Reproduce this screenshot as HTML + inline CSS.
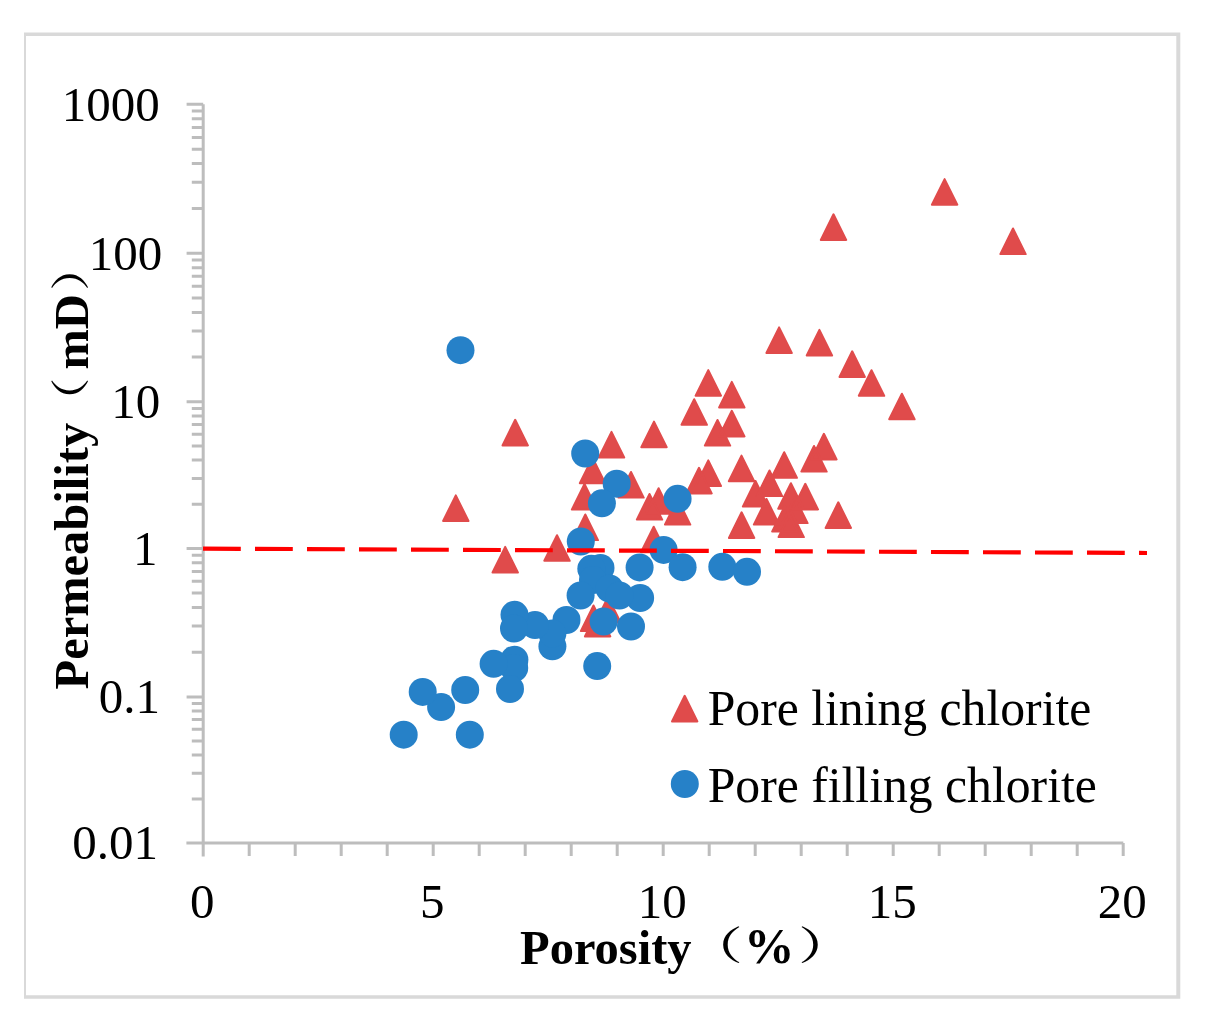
<!DOCTYPE html>
<html><head><meta charset="utf-8"><title>Permeability vs Porosity</title>
<style>html,body{margin:0;padding:0;background:#fff;}svg{display:block;}</style></head>
<body><svg width="1217" height="1030" viewBox="0 0 1217 1030">
<rect width="1217" height="1030" fill="#fff"/>
<path d="M24 32.5H1180.3V998.8H24Z M26 36V995.2H1176.3V36Z" fill="#d9d9d9" fill-rule="evenodd"/>
<path d="M203.2 104.3V856.5 M186.4 843.1H1123.3 M186.6 104.3H203.2 M186.6 253.3H203.2 M186.6 401.8H203.2 M186.6 548.4H203.2 M186.6 696.9H203.2 M186.6 843.1H203.2 M191.8 799.1H203.2 M191.8 773.3H203.2 M191.8 755.1H203.2 M191.8 740.9H203.2 M191.8 729.3H203.2 M191.8 719.5H203.2 M191.8 711.1H203.2 M191.8 703.6H203.2 M191.8 652.2H203.2 M191.8 626.0H203.2 M191.8 607.5H203.2 M191.8 593.1H203.2 M191.8 581.3H203.2 M191.8 571.4H203.2 M191.8 562.8H203.2 M191.8 555.2H203.2 M191.8 504.3H203.2 M191.8 478.5H203.2 M191.8 460.1H203.2 M191.8 445.9H203.2 M191.8 434.3H203.2 M191.8 424.5H203.2 M191.8 416.0H203.2 M191.8 408.5H203.2 M191.8 357.1H203.2 M191.8 330.9H203.2 M191.8 312.4H203.2 M191.8 298.0H203.2 M191.8 286.2H203.2 M191.8 276.3H203.2 M191.8 267.7H203.2 M191.8 260.1H203.2 M191.8 208.4H203.2 M191.8 182.2H203.2 M191.8 163.6H203.2 M191.8 149.2H203.2 M191.8 137.4H203.2 M191.8 127.4H203.2 M191.8 118.7H203.2 M191.8 111.1H203.2 M249.2 843.1V856.0 M295.2 843.1V856.0 M341.2 843.1V856.0 M387.2 843.1V856.0 M433.2 843.1V856.0 M479.2 843.1V856.0 M525.2 843.1V856.0 M571.2 843.1V856.0 M617.2 843.1V856.0 M663.2 843.1V856.0 M709.2 843.1V856.0 M755.2 843.1V856.0 M801.2 843.1V856.0 M847.2 843.1V856.0 M893.2 843.1V856.0 M939.2 843.1V856.0 M985.2 843.1V856.0 M1031.2 843.1V856.0 M1077.2 843.1V856.0 M1123.2 843.1V856.0" fill="none" stroke="#bdbdbd" stroke-width="3"/>
<path d="M820.8 239.9L833.5 214.3L846.2 239.9ZM931.9 204.7L944.6 179.1L957.3 204.7ZM1000.3 254.1L1013.0 228.5L1025.7 254.1ZM766.4 353.0L779.1 327.4L791.8 353.0ZM806.7 355.5L819.4 329.9L832.1 355.5ZM839.5 376.9L852.2 351.3L864.9 376.9ZM858.8 395.8L871.5 370.2L884.2 395.8ZM889.2 419.3L901.9 393.7L914.6 419.3ZM695.6 395.7L708.3 370.1L721.0 395.7ZM719.1 407.5L731.8 381.9L744.5 407.5ZM681.5 424.8L694.2 399.2L706.9 424.8ZM719.1 436.4L731.8 410.8L744.5 436.4ZM704.8 445.6L717.5 420.0L730.2 445.6ZM641.3 447.2L654.0 421.6L666.7 447.2ZM598.8 457.5L611.5 431.9L624.2 457.5ZM728.8 481.2L741.5 455.6L754.2 481.2ZM695.6 486.0L708.3 460.4L721.0 486.0ZM686.3 493.4L699.0 467.8L711.7 493.4ZM618.3 497.6L631.0 472.0L643.7 497.6ZM811.2 459.4L823.9 433.8L836.6 459.4ZM801.3 471.6L814.0 446.0L826.7 471.6ZM771.5 477.8L784.2 452.2L796.9 477.8ZM756.8 496.1L769.5 470.5L782.2 496.1ZM742.8 506.6L755.5 481.0L768.2 506.6ZM778.2 508.8L790.9 483.2L803.6 508.8ZM792.6 509.4L805.3 483.8L818.0 509.4ZM753.8 524.6L766.5 499.0L779.2 524.6ZM782.2 523.1L794.9 497.5L807.6 523.1ZM778.5 537.1L791.2 511.5L803.9 537.1ZM728.9 537.9L741.6 512.3L754.3 537.9ZM825.6 527.9L838.3 502.3L851.0 527.9ZM772.1 531.6L784.8 506.0L797.5 531.6ZM579.8 483.2L592.5 457.6L605.2 483.2ZM571.8 509.6L584.5 484.0L597.2 509.6ZM645.9 513.8L658.6 488.2L671.3 513.8ZM636.8 519.6L649.5 494.0L662.2 519.6ZM664.9 524.6L677.6 499.0L690.3 524.6ZM641.0 552.3L653.7 526.7L666.4 552.3ZM572.6 540.1L585.3 514.5L598.0 540.1ZM544.3 560.8L557.0 535.2L569.7 560.8ZM492.5 572.5L505.2 546.9L517.9 572.5ZM443.1 521.0L455.8 495.4L468.5 521.0ZM502.5 445.4L515.2 419.8L527.9 445.4ZM580.8 631.1L593.5 605.5L606.2 631.1ZM584.9 636.4L597.6 610.8L610.3 636.4ZM595.3 622.6L608.0 597.0L620.7 622.6Z" fill="#e04b4b" stroke="#e04b4b" stroke-width="2" stroke-linejoin="round"/>
<circle cx="460.5" cy="350.2" r="14.0" fill="#2681c8"/>
<circle cx="585.2" cy="453.5" r="14.0" fill="#2681c8"/>
<circle cx="616.7" cy="483.7" r="14.0" fill="#2681c8"/>
<circle cx="601.9" cy="503.3" r="14.0" fill="#2681c8"/>
<circle cx="677.6" cy="498.8" r="14.0" fill="#2681c8"/>
<circle cx="580.8" cy="541.5" r="14.0" fill="#2681c8"/>
<circle cx="663.6" cy="549.9" r="14.0" fill="#2681c8"/>
<circle cx="682.6" cy="567.2" r="14.0" fill="#2681c8"/>
<circle cx="722.3" cy="566.8" r="14.0" fill="#2681c8"/>
<circle cx="747.0" cy="571.8" r="14.0" fill="#2681c8"/>
<circle cx="639.6" cy="567.4" r="14.0" fill="#2681c8"/>
<circle cx="640.1" cy="598.0" r="14.0" fill="#2681c8"/>
<circle cx="600.5" cy="568.0" r="14.0" fill="#2681c8"/>
<circle cx="591.3" cy="568.8" r="14.0" fill="#2681c8"/>
<circle cx="593.0" cy="580.0" r="14.0" fill="#2681c8"/>
<circle cx="580.6" cy="595.5" r="14.0" fill="#2681c8"/>
<circle cx="609.5" cy="588.5" r="14.0" fill="#2681c8"/>
<circle cx="619.5" cy="595.5" r="14.0" fill="#2681c8"/>
<circle cx="603.6" cy="621.5" r="14.0" fill="#2681c8"/>
<circle cx="631.0" cy="626.5" r="14.0" fill="#2681c8"/>
<circle cx="597.2" cy="666.1" r="14.0" fill="#2681c8"/>
<circle cx="566.5" cy="620.0" r="14.0" fill="#2681c8"/>
<circle cx="552.4" cy="646.3" r="14.0" fill="#2681c8"/>
<circle cx="552.4" cy="633.5" r="14.0" fill="#2681c8"/>
<circle cx="535.0" cy="625.0" r="14.0" fill="#2681c8"/>
<circle cx="514.5" cy="614.8" r="14.0" fill="#2681c8"/>
<circle cx="514.0" cy="628.5" r="14.0" fill="#2681c8"/>
<circle cx="514.4" cy="659.7" r="14.0" fill="#2681c8"/>
<circle cx="514.2" cy="668.0" r="14.0" fill="#2681c8"/>
<circle cx="510.0" cy="689.0" r="14.0" fill="#2681c8"/>
<circle cx="493.6" cy="663.8" r="14.0" fill="#2681c8"/>
<circle cx="465.2" cy="690.0" r="14.0" fill="#2681c8"/>
<circle cx="469.8" cy="734.7" r="14.0" fill="#2681c8"/>
<circle cx="441.1" cy="707.1" r="14.0" fill="#2681c8"/>
<circle cx="422.7" cy="691.9" r="14.0" fill="#2681c8"/>
<circle cx="403.7" cy="734.7" r="14.0" fill="#2681c8"/>
<line x1="203" y1="548.6" x2="1147" y2="553" stroke="#ff0000" stroke-width="4.2" stroke-dasharray="37.8 14.2"/>
<path d="M672.0 721.4L684.7 695.8L697.4 721.4Z" fill="#e04b4b" stroke="#e04b4b" stroke-width="2" stroke-linejoin="round"/>
<circle cx="684.8" cy="784" r="14.0" fill="#2681c8"/>
<text x="707.7" y="725.2" style="font-family:&quot;Liberation Serif&quot;,&quot;Noto Serif CJK SC&quot;,serif;font-size:49.7px">Pore lining chlorite</text>
<text x="707.7" y="802.4" style="font-family:&quot;Liberation Serif&quot;,&quot;Noto Serif CJK SC&quot;,serif;font-size:49.7px">Pore filling chlorite</text>
<text x="159.7" y="120.6" text-anchor="end" style="font-family:&quot;Liberation Serif&quot;,&quot;Noto Serif CJK SC&quot;,serif;font-size:49px">1000</text>
<text x="162.2" y="269.6" text-anchor="end" style="font-family:&quot;Liberation Serif&quot;,&quot;Noto Serif CJK SC&quot;,serif;font-size:49px">100</text>
<text x="160.3" y="418.1" text-anchor="end" style="font-family:&quot;Liberation Serif&quot;,&quot;Noto Serif CJK SC&quot;,serif;font-size:49px">10</text>
<text x="157.6" y="564.7" text-anchor="end" style="font-family:&quot;Liberation Serif&quot;,&quot;Noto Serif CJK SC&quot;,serif;font-size:49px">1</text>
<text x="160.1" y="713.2" text-anchor="end" style="font-family:&quot;Liberation Serif&quot;,&quot;Noto Serif CJK SC&quot;,serif;font-size:49px">0.1</text>
<text x="158.1" y="859.4" text-anchor="end" style="font-family:&quot;Liberation Serif&quot;,&quot;Noto Serif CJK SC&quot;,serif;font-size:49px">0.01</text>
<text x="202.2" y="917.8" text-anchor="middle" style="font-family:&quot;Liberation Serif&quot;,&quot;Noto Serif CJK SC&quot;,serif;font-size:49px">0</text>
<text x="432.2" y="917.8" text-anchor="middle" style="font-family:&quot;Liberation Serif&quot;,&quot;Noto Serif CJK SC&quot;,serif;font-size:49px">5</text>
<text x="662.2" y="917.8" text-anchor="middle" style="font-family:&quot;Liberation Serif&quot;,&quot;Noto Serif CJK SC&quot;,serif;font-size:49px">10</text>
<text x="892.2" y="917.8" text-anchor="middle" style="font-family:&quot;Liberation Serif&quot;,&quot;Noto Serif CJK SC&quot;,serif;font-size:49px">15</text>
<text x="1122.2" y="917.8" text-anchor="middle" style="font-family:&quot;Liberation Serif&quot;,&quot;Noto Serif CJK SC&quot;,serif;font-size:49px">20</text>
<text x="520" y="963.7" style="font-family:&quot;Liberation Serif&quot;,&quot;Noto Serif CJK SC&quot;,serif;font-size:48.5px;font-weight:bold">Porosity</text>
<text transform="translate(687.6 958.9) scale(1.415 1.0)" style="font-family:&quot;Liberation Serif&quot;,&quot;Noto Serif CJK SC&quot;,serif;font-size:39px;font-weight:600">（</text>
<text x="743.9" y="963.4" style="font-family:&quot;Liberation Serif&quot;,&quot;Noto Serif CJK SC&quot;,serif;font-size:50.5px;font-weight:bold">%</text>
<text transform="translate(798.2 958.9) scale(1.415 1.0)" style="font-family:&quot;Liberation Serif&quot;,&quot;Noto Serif CJK SC&quot;,serif;font-size:39px;font-weight:600">）</text>
<g transform="translate(88 689.5) rotate(-90)">
<text x="0" y="0" style="font-family:&quot;Liberation Serif&quot;,&quot;Noto Serif CJK SC&quot;,serif;font-size:48.5px;font-weight:bold">Permeability</text>
<text transform="translate(264.95 -3.6) scale(1.2 1.0)" style="font-family:&quot;Liberation Serif&quot;,&quot;Noto Serif CJK SC&quot;,serif;font-size:39px;font-weight:600">（</text>
<text x="319.9" y="0" style="font-family:&quot;Liberation Serif&quot;,&quot;Noto Serif CJK SC&quot;,serif;font-size:48.5px;font-weight:bold">mD</text>
<text transform="translate(398.8 -3.6) scale(1.2 1.0)" style="font-family:&quot;Liberation Serif&quot;,&quot;Noto Serif CJK SC&quot;,serif;font-size:39px;font-weight:600">）</text>
</g>
</svg></body></html>
